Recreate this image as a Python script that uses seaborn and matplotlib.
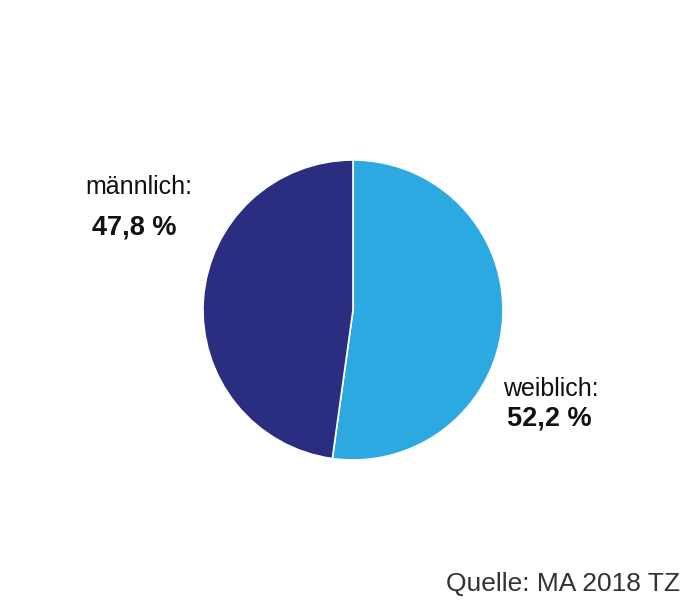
import matplotlib.pyplot as plt
import seaborn as sns

# data
labels = ["weiblich", "männlich"]
shares = [52.2, 47.8]
colors = ["#2DA9E1", "#2B2D80"]
source = "Quelle: MA 2018 TZ"

sns.set_theme(style="white")
plt.rcParams["font.family"] = ["Liberation Sans", "DejaVu Sans"]

fig = plt.figure(figsize=(7, 6), dpi=100)
ax = fig.add_axes([203 / 700, 140 / 600, 300 / 700, 300 / 600])
ax.pie(shares, colors=colors, startangle=90, counterclock=False,
       wedgeprops={"edgecolor": "white", "linewidth": 1.2})
ax.set_xlim(-1, 1)
ax.set_ylim(-1, 1)
ax.set_aspect("equal")
ax.axis("off")

def pct(v):
    return f"{v:.1f}".replace(".", ",") + " %"

# männlich label (left, top)
fig.text(139 / 700, 1 - 187 / 600, labels[1] + ":", ha="center", va="center",
         fontsize=18, color="#111111")
fig.text(134 / 700, 1 - 227 / 600, pct(shares[1]), ha="center", va="center",
         fontsize=19.5, fontweight="bold", color="#111111")

# weiblich label (right, bottom)
fig.text(551 / 700, 1 - 389 / 600, labels[0] + ":", ha="center", va="center",
         fontsize=18, color="#111111")
fig.text(549 / 700, 1 - 418 / 600, pct(shares[0]), ha="center", va="center",
         fontsize=19.5, fontweight="bold", color="#111111")

fig.text(680 / 700, 1 - 584 / 600, source, ha="right", va="center",
         fontsize=19, color="#333333")

fig.savefig("out.png", dpi=100, facecolor="white")
